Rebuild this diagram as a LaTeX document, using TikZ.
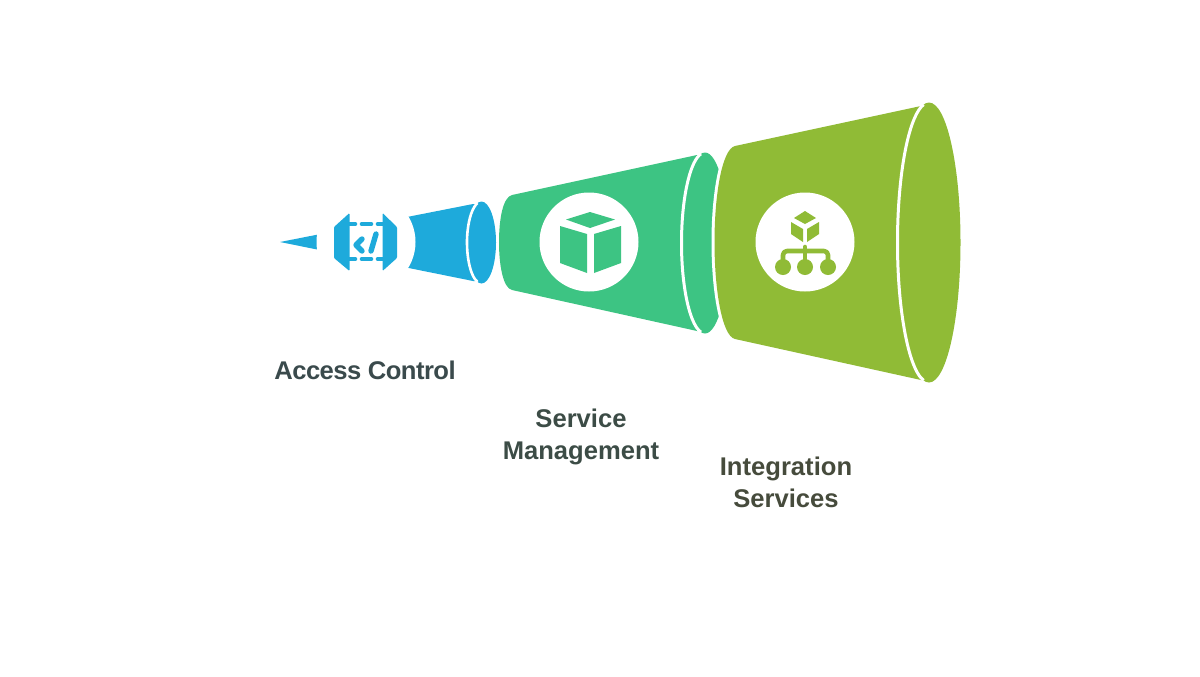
\documentclass[tikz,border=0pt]{standalone}
\usepackage{fontspec}
\setsansfont{Liberation Sans}
\definecolor{accessblue}{HTML}{1EAADB}
\definecolor{servicegreen}{HTML}{3DC483}
\definecolor{integolive}{HTML}{90BB36}
\definecolor{labelgrey}{HTML}{3A4A4C}
\definecolor{labelgreen}{HTML}{3C4C46}
\definecolor{labelolive}{HTML}{464B3C}
\tikzset{
	disc/.style={circle,fill=white,minimum size=49.5pt,inner sep=0pt},
	rim/.style={line width=1.5pt,draw=white},
	label/.style={font=\sffamily\bfseries\fontsize{12.8}{16}\selectfont,align=center},
	iconline/.style={line width=2.3pt,line cap=round,line join=round},
}
\begin{document}
\begin{tikzpicture}[x=0.5pt,y=-0.5pt]
	\useasboundingbox (0,0) rectangle (1200,676);

	% blue cone, the disc cuts it in two
	\fill[accessblue] (280,242) -- (473,204) -- (481,204) -- (481,281) -- (473,281) -- cycle;
	\fill[accessblue] (481.5,242.5) ellipse (14.5 and 41);
	\draw[rim,line width=1.3pt] (481.5,242.5) ++(106:14.5 and 41) arc[start angle=106,end angle=254,x radius=14.5,y radius=41];
	\node[disc] (d1) at (366,242) {};

	% green cone
	\fill[servicegreen] (512,195) -- (697,155) -- (705,155) -- (705,331) -- (697,331) -- (512,290)
		.. controls (503,288) and (499,265) .. (499,242) .. controls (499,219) and (503,197) .. (512,195) -- cycle;
	\fill[servicegreen] (705,243) ellipse (23.5 and 90.5);
	\draw[rim] (705,243) ++(100:23.5 and 90.5) arc[start angle=100,end angle=260,x radius=23.5,y radius=90.5];
	\node[disc] (d2) at (589,242) {};

	% olive cone, its white edge cuts the green rim
	\path[fill=integolive,preaction={draw=white,line width=3pt}] (921,106) -- (929,106) -- (929,380) -- (921,380) -- (735,339)
		.. controls (722,336) and (714.5,290) .. (714.5,242) .. controls (714.5,195) and (722,149) .. (735,146) -- cycle;
	\fill[integolive] (929,242.5) ellipse (31.5 and 140);
	\draw[rim] (929,242.5) ++(100:31.5 and 140) arc[start angle=100,end angle=260,x radius=31.5,y radius=140];
	\node[disc] (d3) at (805,242) {};

	% access icon
	\fill[accessblue,rounded corners=0.5pt] (349.5,213) -- (334,227) -- (334,258) -- (349.5,271) -- cycle;
	\fill[accessblue,rounded corners=0.5pt] (382.5,213) -- (397,227) -- (397,258) -- (382.5,271) -- cycle;
	\def\dashes {350/355, 362/371, 378/382}  % x from/to
	\foreach \a/\b in \dashes
	{	\draw[iconline,accessblue] (\a,224) -- (\b,224);
		\draw[iconline,accessblue] (\a,259) -- (\b,259);
	}
	\draw[iconline,accessblue,line width=2.7pt] (362,239) -- (356,245) -- (362,251);
	\draw[iconline,accessblue,line width=2.7pt] (376,234) -- (371,251);

	% cube icon
	\def\cube {566/219.5/590/212/615/219.5/590/228, 560/226/587/234/587/273/560/263, 594/234/621/226/621/263/594/273}
	\foreach \xa/\ya/\xb/\yb/\xc/\yc/\xd/\yd in \cube
	{	\fill[servicegreen] (\xa,\ya) -- (\xb,\yb) -- (\xc,\yc) -- (\xd,\yd) -- cycle;
	}

	% tree icon
	\def\smallcube {794/218/805/211/816/218/805/224, 791/222/803/229/803/242/791/234, 807/229/819/222/819/234/807/242}
	\foreach \xa/\ya/\xb/\yb/\xc/\yc/\xd/\yd in \smallcube
	{	\fill[integolive] (\xa,\ya) -- (\xb,\yb) -- (\xc,\yc) -- (\xd,\yd) -- cycle;
	}
	\draw[iconline,integolive] (805,247) -- (805,262);
	\draw[iconline,integolive,rounded corners=2pt] (783,262) -- (783,251) -- (828,251) -- (828,262);
	\foreach \x in {783,805,828}
	{	\fill[integolive] (\x,267) circle (8);
	}

	\node[label,text=labelgrey] (access) at (365,370) {\addfontfeature{LetterSpace=-2.1}Access Control};
	\node[label,text=labelgreen] (service) at (581,437) {Service\\Management};
	\node[label,text=labelolive] (integration) at (786,482) {Integration\\Services};
\end{tikzpicture}
\end{document}
